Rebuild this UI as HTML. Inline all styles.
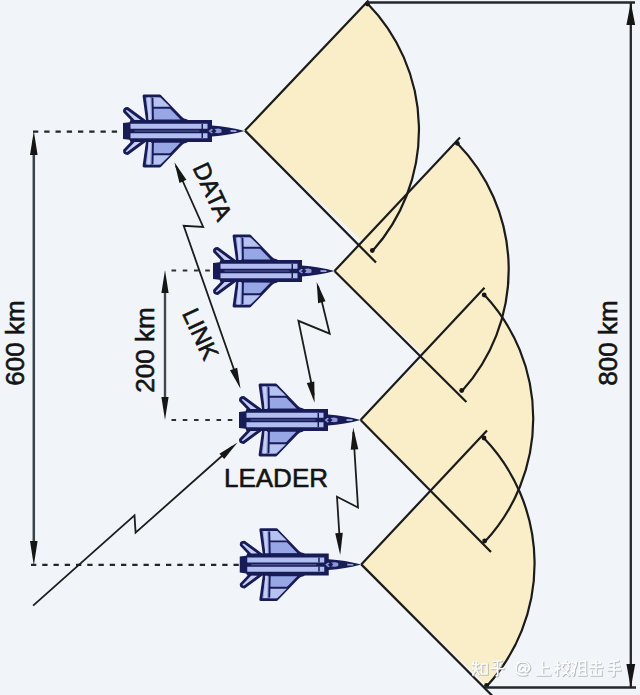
<!DOCTYPE html>
<html><head><meta charset="utf-8">
<style>
html,body{margin:0;padding:0;background:#f1f5f9;}
body{width:640px;height:695px;overflow:hidden;}
svg{display:block;}
text{font-family:"Liberation Sans",sans-serif;fill:#141414;stroke:#141414;stroke-width:0.6px;}
</style></head><body>
<svg width="640" height="695" viewBox="0 0 640 695">
<defs>
  <g id="jet">
    <!-- nose tip at 0,0 -->
    <path d="M-120,-19.5 Q-120.5,-22.5 -117,-22.5 L-100,-10 L-110,-9 Z" fill="#c6cef2" stroke="#181c56" stroke-width="2.8" stroke-linejoin="round"/>
    <path d="M-120,19.5 Q-120.5,22.5 -117,22.5 L-100,10 L-110,9 Z" fill="#c6cef2" stroke="#181c56" stroke-width="2.8" stroke-linejoin="round"/>
    <path d="M-100.5,-35 L-84.7,-35 L-63.5,-13 Q-61.5,-10.8 -58,-10.3 L-97,-10 Z" fill="#97a7e6" stroke="#181c56" stroke-width="2.8" stroke-linejoin="round"/>
    <path d="M-100.5,35 L-84.7,35 L-63.5,13 Q-61.5,10.8 -58,10.3 L-97,10 Z" fill="#97a7e6" stroke="#181c56" stroke-width="2.8" stroke-linejoin="round"/>
    <path d="M-91.5,-33.6 L-84,-33.6 L-73.5,-23.2 L-91.5,-23.2 Z" fill="#b6c2f0"/>
    <path d="M-91.5,33.6 L-84,33.6 L-73.5,23.2 L-91.5,23.2 Z" fill="#b6c2f0"/>
    <path d="M-97.5,-33.5 L-94.3,-33.5 L-93.5,-11 L-96,-11 Z" fill="#c6cef3"/>
    <path d="M-97.5,33.5 L-94.3,33.5 L-93.5,11 L-96,11 Z" fill="#c6cef3"/>
    <path d="M-92,-33 L-91.5,-10 M-92,-23.2 L-73,-23.2" stroke="#181c56" stroke-width="1.9" fill="none"/>
    <path d="M-92,33 L-91.5,10 M-92,23.2 L-73,23.2" stroke="#181c56" stroke-width="1.9" fill="none"/>
    <path d="M-121.5,-8 L-115,-8.8 L-114,-11 L-32.5,-11 L-32.5,-5.4 C-22,-4.6 -10,-3 0,0 C-10,3 -22,4.6 -32.5,5.4 L-32.5,11 L-114,11 L-115,8.8 L-121.5,8 Z" fill="#181c56"/>
    <path d="M-114,-7.2 L-37,-7.2 L-37,-2.2 L-114,-2.2 Z" fill="#b3bef0"/>
    <path d="M-114,2.2 L-37,2.2 L-37,7.2 L-114,7.2 Z" fill="#b3bef0"/>
    <path d="M-110,-0.4 L-45,-0.4 L-45,0.6 L-110,0.6 Z" fill="#5a64a0"/>
    <path d="M-43,-7 L-41.5,-7 L-41.5,-2 L-43,-2 Z M-43,2 L-41.5,2 L-41.5,7 L-43,7 Z" fill="#181c56"/>
    <path d="M-36,0 L-33,-2.2 L-31.5,-1.2 L-33.5,0.2 L-31.5,1.8 L-33,2.6 Z M-30,-2 L-26,-2.4 L-23,-1.5 L-23,1.5 L-26,2.2 L-30,1.8 L-28,0 Z" fill="#8d98d8"/>
    <path d="M-14,-0.9 L-8,-0.7 L-8,0.9 L-14,1 Z" fill="#9aa4dc"/>
  </g>
</defs>

<!-- sector fills -->
<g fill="#f9eec8" stroke="none">
  <path d="M245,130.6 L367,3 A181,181 0 0 1 372.5,251 Z"/>
  <path d="M334.5,271 L457,143 A181,181 0 0 1 462,391 Z"/>
  <path d="M360.6,420 L484.5,295 A181,181 0 0 1 485,541.6 Z"/>
  <path d="M361.25,564.4 L483.8,438 A181,181 0 0 1 487,686 Z"/>
</g>

<!-- sector lines -->
<g fill="none" stroke="#1b1b1b" stroke-width="2.2" stroke-linecap="butt">
  <path d="M245,130.6 L368.5,0.5 M245,130.6 L376,262.5 M367,3 A181,181 0 0 1 372.5,251"/>
  <path d="M334.5,271 L460,137.5 M334.5,271 L466.4,402 M457,143 A181,181 0 0 1 462,391"/>
  <path d="M360.6,420 L484.5,287.7 M360.6,420 L491,552 M484.5,295 A181,181 0 0 1 485,541.6"/>
  <path d="M361.25,564.4 L487,430.6 M361.25,564.4 L496.5,700 M483.8,438 A181,181 0 0 1 487,686"/>
</g>
<g fill="#161616">
  <circle cx="367.5" cy="4" r="2.4"/>
  <circle cx="372.3" cy="250.5" r="2.4"/>
  <circle cx="457.3" cy="143.3" r="2.4"/>
  <circle cx="461.7" cy="390.5" r="2.4"/>
  <circle cx="484.2" cy="295" r="2.4"/>
  <circle cx="484.6" cy="541" r="2.4"/>
  <circle cx="484" cy="438" r="2.4"/>
  <circle cx="486.5" cy="685.5" r="2.4"/>
</g>

<!-- 800 km dimension -->
<g stroke="#24282c" stroke-width="2.3" fill="none">
  <path d="M367,2.5 L635,2.5 M630.8,3 L630.8,687.5 M485,687.5 L636,687.5"/>
</g>
<path d="M630.8,2.5 L635.2,25 L626.4,25 Z M630.8,688 L635.2,664 L626.4,664 Z" fill="#161616"/>

<!-- 600 km dimension -->
<g stroke="#3a424a" stroke-width="2.5" fill="none">
  <path d="M33.8,140 L33.8,550"/>
</g>
<path d="M33.8,131 L37.6,155 L30,155 Z M33.8,565.5 L37.6,541 L30,541 Z" fill="#161616"/>
<g stroke="#262626" stroke-width="2.2" fill="none" stroke-dasharray="5.3,5.95">
  <path d="M33,131.7 L122,131.7"/>
  <path d="M31,564.8 L240,564.8"/>
</g>

<!-- 200 km dimension -->
<g stroke="#43464f" stroke-width="2.4" fill="none">
  <path d="M165,285 L165,405"/>
</g>
<path d="M165,270 L168.6,293 L161.4,293 Z M165,420 L168.6,397 L161.4,397 Z" fill="#161616"/>
<g stroke="#303030" stroke-width="2.1" fill="none" stroke-dasharray="4.6,6.65">
  <path d="M171.5,270.5 L215,270.5"/>
  <path d="M171.5,420 L240,420"/>
</g>

<!-- data link lightning -->
<g stroke="#1c1c1c" stroke-width="1.8" fill="none" stroke-linejoin="miter">
  <path d="M176,166 L203.2,227 L183.7,225.8 L238,381"/>
  <path d="M318,286 L329.7,333.7 L298.4,320.8 L313.8,395"/>
  <path d="M353.3,432 L358,507.5 L337,496.7 L340.2,548"/>
  <path d="M33.1,605.6 L134.5,515.4 L135.6,532.7 L232,447"/>
</g>
<g fill="#161616">
  <path d="M174.4,162.2 L186.4,179.8 L179.5,182.9 Z"/>
  <path d="M240.5,388.8 L230.0,370.2 L237.2,367.7 Z"/>
  <path d="M316.7,281.9 L325.5,301.3 L318.1,303.2 Z"/>
  <path d="M314.6,402.8 L306.8,382.9 L314.3,381.5 Z"/>
  <path d="M353.2,427.6 L358.3,449.3 L350.7,449.8 Z"/>
  <path d="M340.2,555.0 L335.2,533.2 L342.8,532.8 Z"/>
  <path d="M237.5,442.5 L224.2,459.1 L219.4,453.7 Z"/>
</g>

<!-- jets -->
<use href="#jet" transform="translate(244.5,131)"/>
<use href="#jet" transform="translate(334.5,271)"/>
<use href="#jet" transform="translate(360.5,420)"/>
<use href="#jet" transform="translate(361.25,564.6)"/>

<!-- texts -->
<text x="0" y="0" font-size="26" transform="translate(23.5,343) rotate(-90)" text-anchor="middle">600 km</text>
<text x="0" y="0" font-size="26" transform="translate(153.5,350) rotate(-90)" text-anchor="middle">200 km</text>
<text x="0" y="0" font-size="26" transform="translate(616.5,343) rotate(-90)" text-anchor="middle">800 km</text>
<text x="276" y="487" font-size="26" text-anchor="middle">LEADER</text>
<text x="0" y="0" font-size="24" transform="translate(205,195) rotate(65)" text-anchor="middle">DATA</text>
<text x="0" y="0" font-size="24" transform="translate(193,337.5) rotate(65)" text-anchor="middle">LINK</text>

<!-- watermark -->
<g>
<path transform="translate(472.2,660.7)" d="M2.5,1 L1,5 M1,4.5 H8 M0.5,9 H8.5 M4.5,1.5 V9 L1,15.5 M5,10.5 L8,15 M10,4 H15.5 V14 H10 Z" fill="none" stroke="#a8acb2" stroke-width="2.2" stroke-opacity="0.8"/>
<path transform="translate(490.2,660.7)" d="M3,1.5 L13,0.5 M5,3.5 L6,6 M11.5,3.5 L10.5,6 M1,8.5 H15 M8,1.5 V15 Q8,16 6,15.5" fill="none" stroke="#a8acb2" stroke-width="2.2" stroke-opacity="0.8"/>
<path transform="translate(515.2,660.7)" d="M11.5,6 L10.5,11 Q11,12.5 13,11.5 Q15.5,9.5 15,7 Q14,2 8,2 Q2,2 1.5,8.5 Q1.5,15 8,15 Q11,15 13,14 M10.8,7.5 Q10,5.5 8,5.8 Q5,6.5 5,10 Q5.5,12 7.5,11.5 Q9.5,10.5 10.6,8.5" fill="none" stroke="#a8acb2" stroke-width="2.2" stroke-opacity="0.8"/>
<path transform="translate(536.2,660.7)" d="M7,1 V15 M7,7.5 H13.5 M0.5,15 H15.5" fill="none" stroke="#a8acb2" stroke-width="2.2" stroke-opacity="0.8"/>
<path transform="translate(554.7,660.7)" d="M0.5,5 H6.5 M3.5,1 V16 M3.5,6 L0.5,12.5 M3.5,7 L6,9.5 M11.5,0.5 L12.5,2.5 M7.5,3.5 H16 M9.5,4.5 L8,7.5 M13.5,4.5 L15.5,7.5 M8.5,8.5 L15.5,16 M15,8.5 L8,16" fill="none" stroke="#a8acb2" stroke-width="2.2" stroke-opacity="0.8"/>
<path transform="translate(571.7,660.7)" d="M1,1.5 L5,4 M5.5,1 Q5,9 0.5,12.5 M3,7 Q4,12 2,16 M8.5,1.5 V15 M8.5,1.5 H14.5 V15 M8.5,6 H14.5 M8.5,10.5 H14.5 M6.5,15 H16" fill="none" stroke="#a8acb2" stroke-width="2.2" stroke-opacity="0.8"/>
<path transform="translate(588.7,660.7)" d="M3,3.5 H13 M1,7.5 H15 M8,0.5 V14.5 M3,10 V15 H13 V10" fill="none" stroke="#a8acb2" stroke-width="2.2" stroke-opacity="0.8"/>
<path transform="translate(606.7,660.7)" d="M3,2.5 L13,0.5 M2,6 H14 M1,10 H15 M8,1.5 V15 Q8,16.5 6,15.5" fill="none" stroke="#a8acb2" stroke-width="2.2" stroke-opacity="0.8"/>
<path transform="translate(471.5,660)" d="M2.5,1 L1,5 M1,4.5 H8 M0.5,9 H8.5 M4.5,1.5 V9 L1,15.5 M5,10.5 L8,15 M10,4 H15.5 V14 H10 Z" fill="none" stroke="#ffffff" stroke-width="1.6"/>
<path transform="translate(489.5,660)" d="M3,1.5 L13,0.5 M5,3.5 L6,6 M11.5,3.5 L10.5,6 M1,8.5 H15 M8,1.5 V15 Q8,16 6,15.5" fill="none" stroke="#ffffff" stroke-width="1.6"/>
<path transform="translate(514.5,660)" d="M11.5,6 L10.5,11 Q11,12.5 13,11.5 Q15.5,9.5 15,7 Q14,2 8,2 Q2,2 1.5,8.5 Q1.5,15 8,15 Q11,15 13,14 M10.8,7.5 Q10,5.5 8,5.8 Q5,6.5 5,10 Q5.5,12 7.5,11.5 Q9.5,10.5 10.6,8.5" fill="none" stroke="#ffffff" stroke-width="1.6"/>
<path transform="translate(535.5,660)" d="M7,1 V15 M7,7.5 H13.5 M0.5,15 H15.5" fill="none" stroke="#ffffff" stroke-width="1.6"/>
<path transform="translate(554,660)" d="M0.5,5 H6.5 M3.5,1 V16 M3.5,6 L0.5,12.5 M3.5,7 L6,9.5 M11.5,0.5 L12.5,2.5 M7.5,3.5 H16 M9.5,4.5 L8,7.5 M13.5,4.5 L15.5,7.5 M8.5,8.5 L15.5,16 M15,8.5 L8,16" fill="none" stroke="#ffffff" stroke-width="1.6"/>
<path transform="translate(571,660)" d="M1,1.5 L5,4 M5.5,1 Q5,9 0.5,12.5 M3,7 Q4,12 2,16 M8.5,1.5 V15 M8.5,1.5 H14.5 V15 M8.5,6 H14.5 M8.5,10.5 H14.5 M6.5,15 H16" fill="none" stroke="#ffffff" stroke-width="1.6"/>
<path transform="translate(588,660)" d="M3,3.5 H13 M1,7.5 H15 M8,0.5 V14.5 M3,10 V15 H13 V10" fill="none" stroke="#ffffff" stroke-width="1.6"/>
<path transform="translate(606,660)" d="M3,2.5 L13,0.5 M2,6 H14 M1,10 H15 M8,1.5 V15 Q8,16.5 6,15.5" fill="none" stroke="#ffffff" stroke-width="1.6"/>
</g>
</svg>
</body></html>
